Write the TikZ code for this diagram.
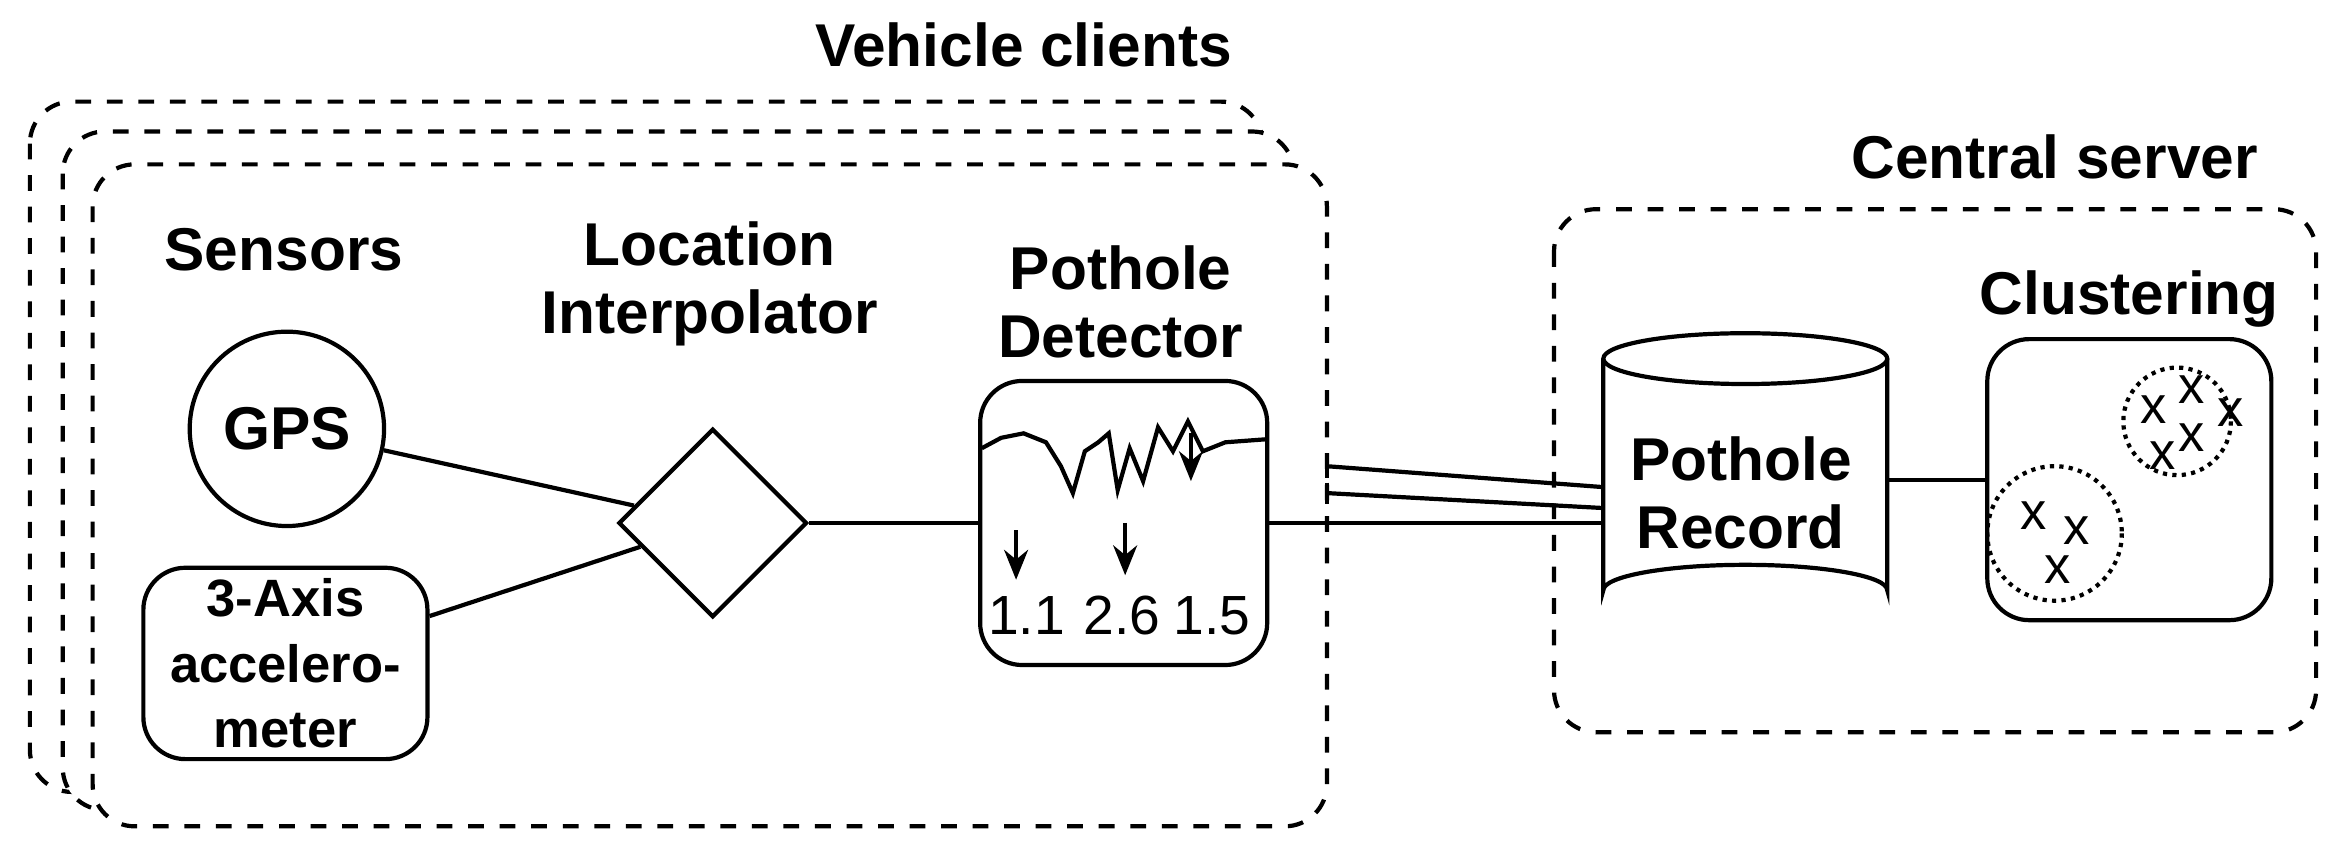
\documentclass[tikz,border=0pt]{standalone}
\usepackage{fontspec}
\setmainfont{Liberation Sans}
\usetikzlibrary{shapes.geometric,arrows.meta}
\tikzset{
  frame/.style={draw,thick,dashed,rounded corners=8pt},
  box/.style={draw,thick,rounded corners=8pt},
  lbl/.style={font=\bfseries\fontsize{11.5}{13}\selectfont,align=center},
  num/.style={font=\fontsize{10.5}{12}\selectfont},
  link/.style={thick},
  xm/.style={font=\fontsize{10}{12}\selectfont},
}
\begin{document}
\begin{tikzpicture}[x=0.01cm,y=-0.01cm]
  \useasboundingbox (0,0) rectangle (1568,570);
  % vehicle clients
  \node[lbl] (vc) at (685,30) {Vehicle clients};
  \draw[frame,fill=white] (20,68) rectangle (845,530);
  \draw[frame,fill=white] (42,88) rectangle (866,542);
  \draw[frame,fill=white] (62,110) rectangle (888,553);
  \node[lbl] (sens) at (190,167) {Sensors};
  \node[draw,thick,circle,minimum size=1.3cm,lbl,inner sep=0] (gps) at (192,287) {GPS};
  \node[box,minimum width=1.9cm,minimum height=1.28cm,align=center,inner sep=0,
        font=\bfseries\fontsize{10}{12.5}\selectfont] (acc) at (191,444) {3-Axis\\accelero-\\meter};
  \node[lbl] (li) at (475,190) {Location\\Interpolator};
  \node[draw,thick,diamond,minimum width=1.26cm,minimum height=1.26cm,inner sep=0] (dia) at (477,350) {};
  \draw[link] (gps) -- (dia);
  \draw[link] (acc) -- (dia);
  % pothole detector
  \node[lbl] (pdt) at (750,202) {Pothole\\Detector};
  \node[box,minimum width=1.92cm,minimum height=1.9cm] (pd) at (752,350) {};
  \draw[thick] (657,300) -- (670,293) -- (685,290) -- (700,296) -- (710,312) -- (718,330)
     -- (726,302) -- (735,296) -- (742,290) -- (748,328) -- (756,300) -- (765,322)
     -- (775,286) -- (785,302) -- (795,282) -- (805,302) -- (820,296) -- (847,294);
  \coordinate (a1) at (680,355); \coordinate (b1) at (680,388);
  \coordinate (a2) at (753,350); \coordinate (b2) at (753,385);
  \coordinate (a3) at (797,290); \coordinate (b3) at (797,322);
  \foreach \i in {1,2,3} \draw[thick,-{Stealth[length=2mm,width=1.6mm]}] (a\i) -- (b\i);
  \node[num] (n1) at (687,412) {1.1};
  \node[num] (n2) at (751,412) {2.6};
  \node[num] (n3) at (811,412) {1.5};
  \draw[link] (dia.east) -- (pd.west);
  % central server
  \node[lbl] (cs) at (1375,105) {Central server};
  \draw[frame] (1040,140) rectangle (1550,490);
  \draw[thick,fill=white] (1073,240) -- (1073,395) arc (180:360:95 and 17) -- (1263,240);
  \draw[thick,fill=white] (1168,240) ellipse (95 and 17);
  \node[lbl] (pr) at (1165,330) {Pothole\\Record};
  \coordinate (r1) at (1073,326); \coordinate (r2) at (1073,340); \coordinate (r3) at (1073,350);
  \coordinate (s1) at (888,312); \coordinate (s2) at (888,330);
  \draw[link] (s1) -- (r1);
  \draw[link] (s2) -- (r2);
  \draw[link] (pd.east) -- (r3);
  \draw[thick] (888,304) -- (888,320);
  \draw[thick] (888,323) -- (888,337);
  \node[lbl] (cl) at (1425,200) {Clustering};
  \node[box,minimum width=1.9cm,minimum height=1.88cm] (cb) at (1425,321) {};
  \coordinate (ce) at (1263,321);
  \draw[link] (ce) -- (cb.west);
  \draw[thick,densely dotted] (1457,282) circle (36);
  \draw[thick,densely dotted] (1375,357) circle (45);
  \foreach \p in {(1441,274),(1467,261),(1493,276),(1467,293),(1447,305),
                  (1361,345),(1390,355),(1377,381)}
    \node[xm] at \p {x};
\end{tikzpicture}
\end{document}
